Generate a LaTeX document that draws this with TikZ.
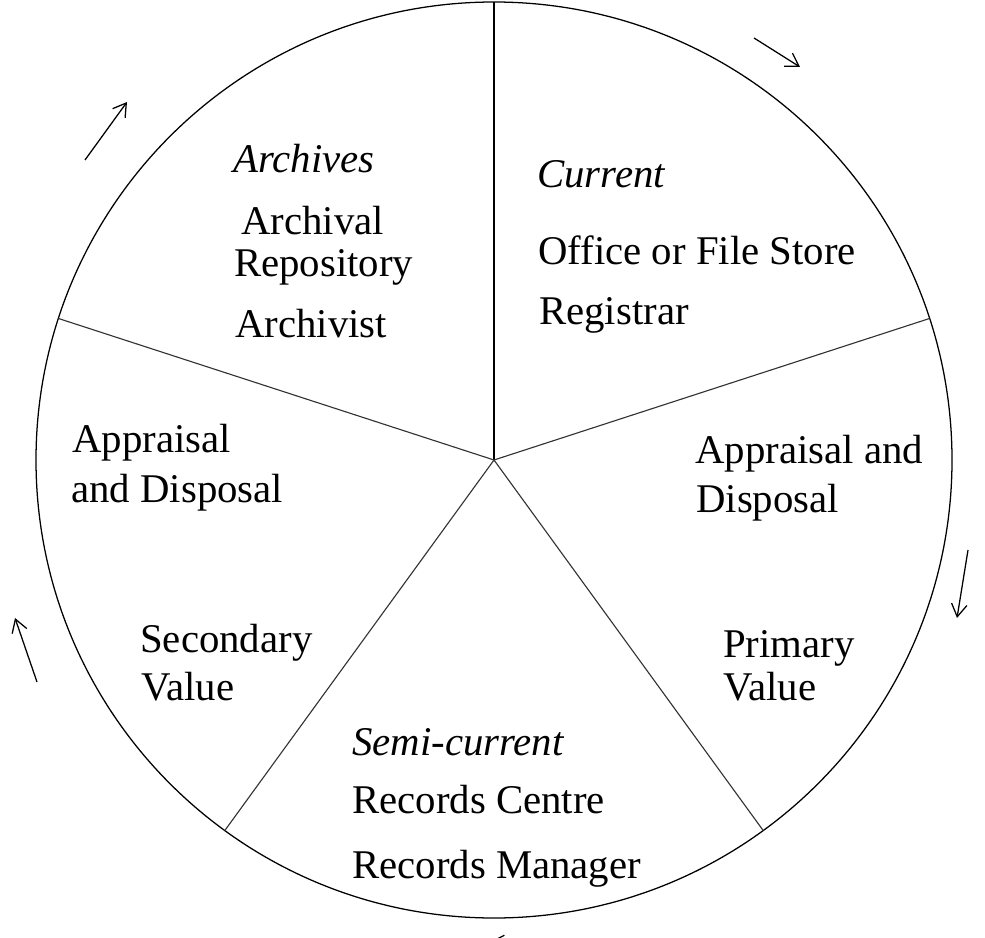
\documentclass[tikz,border=0pt]{standalone}
\usepackage{fontspec}
\setmainfont{Liberation Serif}
\usetikzlibrary{arrows.meta}

\tikzset{
  lbl/.style={anchor=base west, inner sep=0pt, font=\fontsize{29}{31}\selectfont},
  head/.style={lbl, font=\fontsize{29}{31}\selectfont\itshape},
  spoke/.style={line width=0.8pt, black!80},
  flow/.style={line width=0.9pt, -{Straight Barb[length=9pt, width=11pt]}}
}

\begin{document}
\begin{tikzpicture}[x=0.025cm, y=-0.025cm]
\useasboundingbox (0,0) rectangle (985,938);
\clip (0,0) rectangle (985,938);
% Life cycle wheel
\coordinate (hub) at (494,460);
\draw[line width=0.9pt] (hub) circle [radius=458];
\draw[line width=1.1pt] (hub) -- ++(-90:458) coordinate (s1);
\foreach \a/\n in {18/2, -54/3, -126/4, 162/5}
  \draw[spoke] (hub) -- ++(-\a:458) coordinate (s\n);
% Archives
\node[head] (archives) at (233,173) {Archives};
\node[lbl] (archival) at (241,235) {Archival};
\node[lbl] (repository) at (234,276) {Repository};
\node[lbl] (archivist) at (235,337) {Archivist};
% Current
\node[head] (current) at (537,188) {Current};
\node[lbl] (office) at (538,265) {Office or File Store};
\node[lbl] (registrar) at (539,324) {Registrar};
% Appraisal, left and right
\node[lbl] (apprL) at (72,452) {Appraisal};
\node[lbl] (dispL) at (71,502) {and Disposal};
\node[lbl] (apprR) at (695,463) {Appraisal and};
\node[lbl] (dispR) at (696,512) {Disposal};
% Values
\node[lbl] (secondary) at (140,652) {Secondary};
\node[lbl] (secvalue) at (141,700) {Value};
\node[lbl] (primary) at (723,657) {Primary};
\node[lbl] (privalue) at (723,700) {Value};
% Semi-current
\node[head] (semicurrent) at (352,755) {Semi-current};
\node[lbl] (centre) at (352,813) {Records Centre};
\node[lbl] (manager) at (352,878) {Records Manager};
% Direction arrows
\coordinate (a1s) at (754,38);  \coordinate (a1e) at (800,67);
\coordinate (a2s) at (968,550); \coordinate (a2e) at (957,618);
\coordinate (a3s) at (548,946); \coordinate (a3e) at (490,942);
\coordinate (a4s) at (37,682);  \coordinate (a4e) at (15,618);
\coordinate (a5s) at (85,160);  \coordinate (a5e) at (127,102);
\foreach \i in {1,...,5}
  \draw[flow] (a\i s) -- (a\i e);
\end{tikzpicture}
\end{document}
